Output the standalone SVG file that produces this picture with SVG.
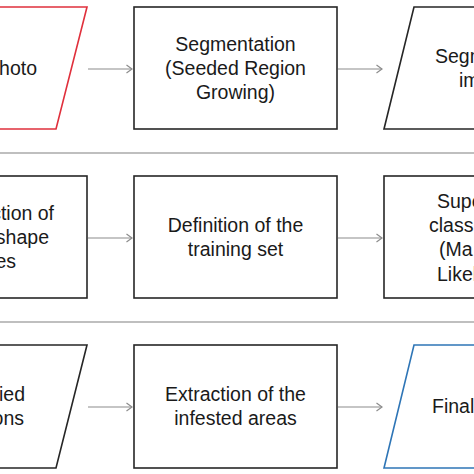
<svg xmlns="http://www.w3.org/2000/svg" width="474" height="474" viewBox="0 0 474 474">
<defs>
<style>
.box{fill:#ffffff;stroke:#262626;stroke-width:1.6}
.red{fill:#ffffff;stroke:#e0303c;stroke-width:1.6}
.blue{fill:#ffffff;stroke:#2e75b6;stroke-width:1.6}
.sep{stroke:#bfbfbf;stroke-width:2}
.conn{stroke:#8c8c8c;stroke-width:1.2;fill:none}
text{font-family:"Liberation Sans",Arial,sans-serif;font-size:19.5px;fill:#1a1a1a}
.c{text-anchor:middle}
.e{text-anchor:end}
</style>
<marker id="arr" viewBox="0 0 10 10" refX="9.5" refY="5" markerWidth="10" markerHeight="10" markerUnits="userSpaceOnUse" orient="auto">
<path d="M4,1 L9.5,5 L4,9" fill="none" stroke="#8c8c8c" stroke-width="1.2"/>
</marker>
</defs>
<rect width="474" height="474" fill="#ffffff"/>
<g id="separators">
<line class="sep" x1="0" y1="153" x2="474" y2="153"/>
<line class="sep" x1="0" y1="322" x2="474" y2="322"/>
</g>
<g id="connectors">
<line class="conn" x1="88" y1="69" x2="132" y2="69" marker-end="url(#arr)"/>
<line class="conn" x1="338" y1="69" x2="382" y2="69" marker-end="url(#arr)"/>
<line class="conn" x1="88" y1="238" x2="132" y2="238" marker-end="url(#arr)"/>
<line class="conn" x1="338" y1="238" x2="382" y2="238" marker-end="url(#arr)"/>
<line class="conn" x1="88" y1="407" x2="132" y2="407" marker-end="url(#arr)"/>
<line class="conn" x1="338" y1="407" x2="382" y2="407" marker-end="url(#arr)"/>
</g>
<g id="photo">
<polygon class="red" points="-86,7 87,7 56,129 -117,129"/>
<text class="e" x="37" y="75">hoto</text>
</g>
<g id="segmentation">
<rect class="box" x="134" y="7" width="203" height="122"/>
<text class="c" x="235.5" y="51">Segmentation</text>
<text class="c" x="235.5" y="75">(Seeded Region</text>
<text class="c" x="235.5" y="99">Growing)</text>
</g>
<g id="segmented-image">
<polygon class="box" points="414,7 590,7 560,129 384,129"/>
<text x="435" y="63">Segm</text>
<text x="459" y="87">im</text>
</g>
<g id="extraction-features">
<rect class="box" x="-116" y="176" width="203" height="122"/>
<text class="e" x="54" y="220">ction of</text>
<text class="e" x="49" y="244">shape</text>
<text class="e" x="16" y="268">es</text>
</g>
<g id="training-set">
<rect class="box" x="134" y="176" width="203" height="122"/>
<text class="c" x="235.5" y="232">Definition of the</text>
<text class="c" x="235.5" y="256">training set</text>
</g>
<g id="classification">
<rect class="box" x="384" y="176" width="203" height="122"/>
<text x="437" y="208">Supe</text>
<text x="429" y="232">classi</text>
<text x="439" y="256">(Ma</text>
<text x="437" y="281">Likel</text>
</g>
<g id="classified-regions">
<polygon class="box" points="-86,345 87,345 56,468 -117,468"/>
<text class="e" x="25" y="401">ied</text>
<text class="e" x="24" y="425">ons</text>
</g>
<g id="infested-areas">
<rect class="box" x="134" y="345" width="203" height="123"/>
<text class="c" x="235.5" y="401">Extraction of the</text>
<text class="c" x="235.5" y="425">infested areas</text>
</g>
<g id="final">
<polygon class="blue" points="414,345 590,345 560,468 384,468"/>
<text x="432" y="413">Final</text>
</g>
</svg>
